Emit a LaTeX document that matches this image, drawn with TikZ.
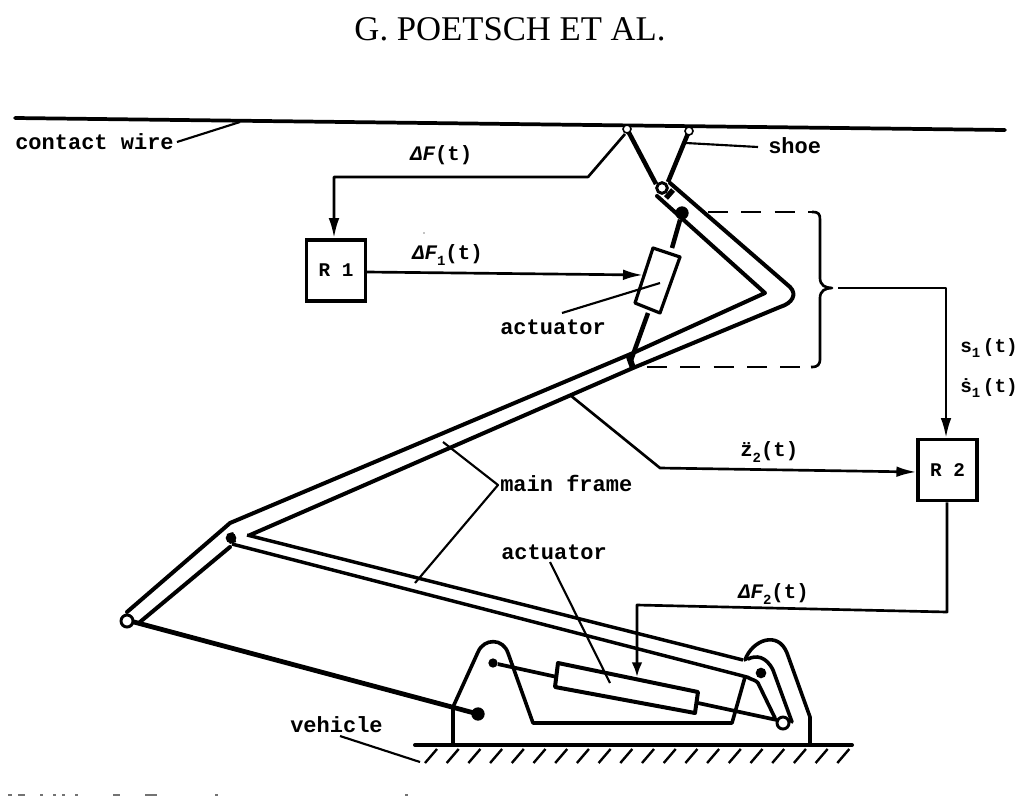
\documentclass[tikz,border=0pt]{standalone}
\usepackage{fontspec}
\setmainfont{Liberation Serif}
\newfontfamily\monob{Liberation Mono}[BoldFont=Liberation Mono Bold,BoldItalicFont=Liberation Mono Bold Italic]
\usetikzlibrary{arrows.meta}
\newcommand\lbl{\monob\bfseries\fontsize{16.5}{18}\selectfont}
\newcommand\fml{\monob\bfseries\fontsize{15.5}{17}\selectfont}
\newcommand\fms{\monob\bfseries\fontsize{14.5}{16}\selectfont}
\newcommand\subs[1]{\raisebox{-4pt}{\fontsize{10.5}{11}\selectfont #1}}
\newcommand\DF{{\itshape ΔF}}
\tikzset{
  x=0.75pt,y=-0.75pt,
  tube/.style={line width=3pt,line cap=round,line join=round},
  wire/.style={line width=2pt,line join=round},
  thin wire/.style={line width=1.6pt,line join=round},
  thick rod/.style={line width=3.6pt,line cap=round},
  txt/.style={inner sep=0pt,font=\lbl},
  fm/.style={inner sep=0pt,anchor=west,font=\fml},
  ctl/.style={draw,line width=2.6pt,minimum width=44pt,minimum height=46pt,inner sep=0pt,font=\lbl\fontsize{14.5}{16}\selectfont},
  sig/.style={wire,-{Latex[length=15pt,width=8pt]}},
  sigshort/.style={wire,-{Latex[length=11pt,width=8pt]}},
  joint/.style={draw,fill=white,line width=2.2pt,circle,inner sep=0pt},
  blob/.style={fill=black,circle,inner sep=0pt},
  outline/.style={line width=2.7pt,line join=round,line cap=round},
  dash bound/.style={line width=1.9pt,dash pattern=on 15pt off 10pt}
}
\begin{document}
\begin{tikzpicture}
\useasboundingbox (0,0) rectangle (1019,796);
% title
\node[inner sep=0pt,font=\fontsize{26}{28}\selectfont] (title) at (510,29) {G. POETSCH ET AL.};
% contact wire
\coordinate (cwL) at (15,118); \coordinate (cwR) at (1005,130);
\draw[line width=2.8pt,line cap=round] (cwL) -- (cwR);
\node[txt,anchor=west] (cwlabel) at (15,142) {contact wire};
\coordinate (cwhit) at (240,122);
\draw[thin wire] (cwlabel.east) ++(3,0) -- (cwhit);
% shoe
\coordinate (pL) at (627,129); \coordinate (pR) at (689,131);
\draw[line width=3.4pt] (pL) -- (656,184);
\draw[line width=3.4pt] (pR) -- (668,182);
\node[joint,minimum size=6pt,line width=1.2pt] (shoeL) at (pL) {};
\node[joint,minimum size=6pt,line width=1.2pt] (shoeR) at (pR) {};
\node[txt,anchor=west] (shoe) at (768,146) {shoe};
\coordinate (shoehit) at (686,143);
\draw[thin wire] (shoehit) -- (758,147);
% frame: upper arm and long arm
\draw[tube] (670,183) -- (790,287) .. controls (797,294) and (793,303) .. (780,307) -- (633,368) -- (250,535);
\draw[tube] (657,196) -- (765,293) -- (633,353) -- (230,523) -- (222,530) -- (127,612);
\draw[tube] (230,547) -- (140,622);
\draw[line width=4pt] (666,198) -- (673,190);
\node[joint,minimum size=8pt,line width=2.2pt] (jtop) at (662,188) {};
\node[blob,minimum size=10pt] (jact) at (682,213) {};
\draw[line width=4.5pt] (628,354) -- (633,368);
% lower tube
\draw[line width=2.6pt] (247,535) -- (743,660);
\draw[line width=2.6pt] (232,544) -- (747,677);
\node[blob,minimum size=8pt] (jmid) at (231,538) {};
\draw[line width=5pt] (230,533) -- (233,543);
% long rod
\draw[thick rod] (134,622) -- (478,714);
\node[joint,minimum size=9pt,line width=2.2pt] (jleft) at (127,621) {};
\node[blob,minimum size=10pt] (jrod) at (478,714) {};
% upper actuator
\draw[line width=3.4pt] (jact) -- (672,248);
\draw[line width=3.4pt] (648,313) -- (630,363);
\draw[line width=2.4pt,fill=white,line join=round] (653,248) -- (680,257) -- (660,313) -- (635,303) -- cycle;
\node[txt,anchor=west] (act1) at (500,327) {actuator};
\coordinate (act1hit) at (660,283);
\draw[thin wire] (562,313) -- (act1hit);
% regulators
\node[ctl] (R1) at (336,270.5) {R 1};
\node[ctl] (R2) at (947.5,470) {R 2};
% signals
\node[fm] (dF) at (410,155) {\DF(t)};
\draw[sig] (pL) ++(-2,5) -- (588,177) -- (334,177) -- (R1.north -| 334,0);
\node[fm] (dF1) at (412,255) {\DF\subs{1}(t)};
\coordinate (act1in) at (643,275);
\draw[sig] (R1.east |- 0,272) -- (act1in);
% brace with dashed bounds
\draw[dash bound] (708,212) -- (812,212);
\draw[dash bound] (647,367) -- (810,367);
\draw[line width=2pt,line join=round] (812,212) .. controls (819,212) and (820,214) .. (820,220) -- (820,278) .. controls (820,285) and (825,288) .. (832,288) .. controls (825,288) and (820,291) .. (820,298) -- (820,358) .. controls (820,365) and (818,367) .. (811,367);
\coordinate (bracetip) at (838,288);
\draw[sig] (bracetip) -- (946,288) -- (946,438);
\node[fm,font=\fms] (s1) at (960,348) {s\subs{1}\kern2pt(t)};
\node[fm,font=\fms] (s1d) at (960,388) {ṡ\subs{1}\kern2pt(t)};
\coordinate (z2hit) at (570,395);
\node[fm] (z2) at (740,452) {z̈\subs{2}(t)};
\draw[sig] (z2hit) -- (660,468) -- (R2.west |- 0,472);
% main frame
\node[txt,anchor=west] (mf) at (500,483) {main frame};
\coordinate (mfhit1) at (443,442); \coordinate (mfhit2) at (415,583);
\draw[thin wire] (mfhit1) -- (498,485) -- (mfhit2);
% base brackets
\draw[outline] (453,743) -- (453,707) -- (478,652) .. controls (484,638) and (503,638) .. (508,653) -- (533,723) -- (732,723) -- (745,677);
\draw[outline] (745,660) .. controls (752,640) and (778,630) .. (787,653) -- (810,717) -- (810,743);
% lever
\draw[outline] (748,659) .. controls (756,655) and (766,656) .. (773,670) -- (792,722);
\draw[outline] (747,677) .. controls (752,680) and (756,680) .. (758,683) -- (775,718);
\node[blob,minimum size=8pt] (jlever) at (761,673) {};
% lower actuator
\node[blob,minimum size=7pt] (jact2) at (493,663) {};
\draw[line width=2.8pt] (jact2) -- (557,677);
\draw[line width=2.8pt] (698,703) -- (777,720);
\draw[line width=3pt,fill=white,line join=round] (558,663) -- (698,692) -- (695,713) -- (555,687) -- cycle;
\node[joint,minimum size=9pt,line width=2.2pt] (jlow) at (783,723) {};
\node[txt,anchor=west] (act2) at (501,552) {actuator};
\coordinate (act2hit) at (610,683);
\draw[thin wire] (550,562) -- (act2hit);
% dF2
\node[fm] (dF2) at (738,594) {\DF\subs{2}(t)};
\draw[sigshort] (R2.south -| 947,0) -- (947,612) -- (637,605) -- (637,677);
% ground
\coordinate (gL) at (415,745); \coordinate (gR) at (852,745);
\draw[line width=3pt,line cap=round] (gL) -- (gR);
\foreach \i in {0,...,19} \draw[line width=1.8pt] ({425+\i*21.7},763) -- ({437+\i*21.7},749);
\node[txt,anchor=west] (veh) at (290,725) {vehicle};
\coordinate (vehhit) at (420,762);
\draw[thin wire] (340,736) -- (vehhit);
% specks
\fill (424,233) circle (0.6);
\foreach \a/\b in {8/12,18/25,40/43,53/56,62/65,75/78,113/120,145/157,215/218,405/408}
  \fill[black!55] (\a,793.5) rectangle (\b,796);
\end{tikzpicture}
\end{document}
